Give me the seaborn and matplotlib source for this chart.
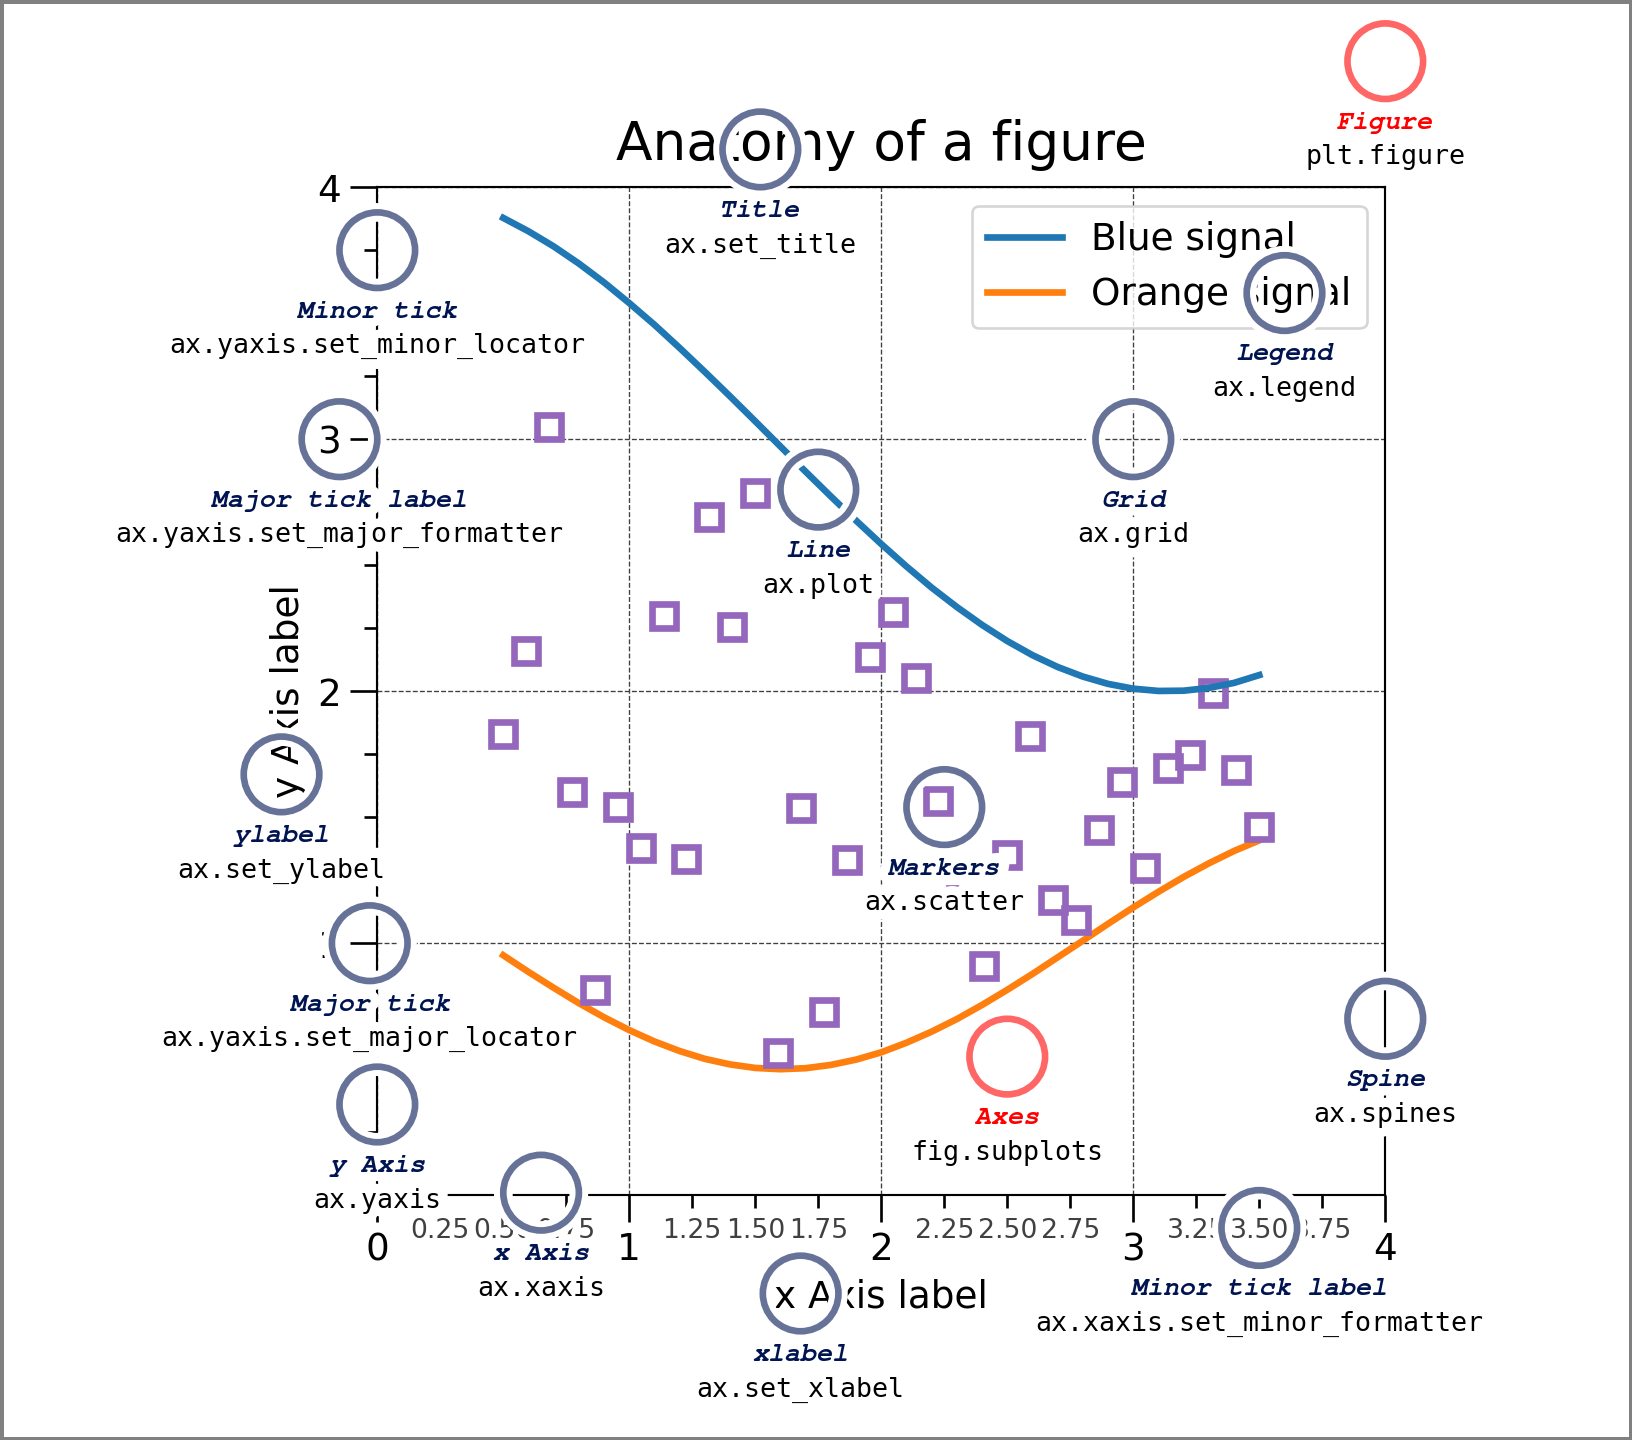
import numpy as np
import matplotlib
matplotlib.use("Agg")
import matplotlib.pyplot as plt
import seaborn as sns
from matplotlib.patches import Circle
from matplotlib.patheffects import withStroke
from matplotlib.ticker import AutoMinorLocator, MultipleLocator
from matplotlib import font_manager
import logging
logging.getLogger('matplotlib.font_manager').setLevel(logging.ERROR)

# ---- data ----
line_x = [0.5, 0.6, 0.7, 0.8, 0.9, 1.0, 1.1, 1.2, 1.3, 1.4, 1.5, 1.6, 1.7, 1.8,
          1.9, 2.0, 2.1, 2.2, 2.3, 2.4, 2.5, 2.6, 2.7, 2.8, 2.9, 3.0, 3.1, 3.2,
          3.3, 3.4, 3.5]
blue_y = [3.878, 3.825, 3.765, 3.697, 3.622, 3.540, 3.454, 3.362, 3.267, 3.170,
          3.071, 2.971, 2.871, 2.773, 2.677, 2.584, 2.495, 2.411, 2.334, 2.263,
          2.199, 2.143, 2.096, 2.058, 2.029, 2.010, 2.001, 2.002, 2.013, 2.033,
          2.064]
orange_y = [0.952, 0.886, 0.823, 0.762, 0.706, 0.655, 0.610, 0.572, 0.541, 0.519,
            0.505, 0.500, 0.504, 0.517, 0.538, 0.567, 0.605, 0.649, 0.699, 0.755,
            0.815, 0.878, 0.944, 1.010, 1.077, 1.142, 1.204, 1.263, 1.317, 1.366,
            1.408]

marker_x = [0.500, 0.591, 0.682, 0.773, 0.864, 0.955, 1.045, 1.136, 1.227, 1.318,
            1.409, 1.500, 1.591, 1.682, 1.773, 1.864, 1.955, 2.045, 2.136, 2.227,
            2.318, 2.409, 2.500, 2.591, 2.682, 2.773, 2.864, 2.955, 3.045, 3.136,
            3.227, 3.318, 3.409, 3.500]
marker_y = [1.830, 2.161, 3.048, 1.600, 0.816, 1.540, 1.377, 2.297, 1.334, 2.690,
            2.253, 2.786, 0.566, 1.536, 0.726, 1.330, 2.134, 2.315, 2.054, 1.565,
            1.170, 0.911, 1.350, 1.824, 1.172, 1.092, 1.449, 1.638, 1.297, 1.694,
            1.745, 1.991, 1.686, 1.462]

series_labels = ["Blue signal", "Orange signal"]
title_text = "Anatomy of a figure"
xlabel_text = "x Axis label"
ylabel_text = "y Axis label"

ann_x = [3.5, -0.03, 0.00, -0.15, 1.68, -0.38, 1.52, 1.75, 2.25, 3.00, 3.60,
         2.5, 4.0, 0.65, 0.0, 4.0]
ann_y = [-0.13, 1.0, 3.75, 3.00, -0.39, 1.67, 4.15, 2.80, 1.54, 3.00, 3.58,
         0.55, 4.5, 0.01, 0.36, 0.7]
ann_name = ["Minor tick label", "Major tick", "Minor tick", "Major tick label",
            "xlabel", "ylabel", "Title", "Line", "Markers", "Grid", "Legend",
            "Axes", "Figure", "x Axis", "y Axis", "Spine"]
ann_code = ["ax.xaxis.set_minor_formatter", "ax.yaxis.set_major_locator",
            "ax.yaxis.set_minor_locator", "ax.yaxis.set_major_formatter",
            "ax.set_xlabel", "ax.set_ylabel", "ax.set_title", "ax.plot",
            "ax.scatter", "ax.grid", "ax.legend", "fig.subplots", "plt.figure",
            "ax.xaxis", "ax.yaxis", "ax.spines"]
ann_red = ["Axes", "Figure"]

royal_blue = [0, 20 / 256, 82 / 256]

# pick a Courier-like slab-serif monospace if one is installed
installed = {f.name for f in font_manager.fontManager.ttflist}
label_fonts = [f for f in ['Nimbus Mono PS', 'Courier New', 'Courier',
                           'FreeMono', 'Nimbus Mono L', 'Courier 10 Pitch']
               if f in installed] + ['DejaVu Sans Mono']

fig = plt.figure(figsize=(8.5, 7.5), dpi=192)
ax = fig.add_axes([0.2, 0.17, 0.68, 0.7], aspect=1)

ax.xaxis.set_major_locator(MultipleLocator(1.000))
ax.xaxis.set_minor_locator(AutoMinorLocator(4))
ax.yaxis.set_major_locator(MultipleLocator(1.000))
ax.yaxis.set_minor_locator(AutoMinorLocator(4))
ax.xaxis.set_minor_formatter("{x:.2f}")

ax.set_xlim(0, 4)
ax.set_ylim(0, 4)

ax.tick_params(which='major', width=1.0, length=10, labelsize=14)
ax.tick_params(which='minor', width=1.0, length=5, labelsize=10,
               labelcolor='0.25')

ax.grid(linestyle="--", linewidth=0.5, color='.25', zorder=-10)

sns.lineplot(x=line_x, y=blue_y, color='C0', lw=2.5, label=series_labels[0],
             zorder=10, ax=ax)
sns.lineplot(x=line_x, y=orange_y, color='C1', lw=2.5, label=series_labels[1],
             ax=ax)
sns.lineplot(x=marker_x, y=marker_y, linewidth=0, markersize=9, marker='s',
             markerfacecolor='none', markeredgecolor='C4', markeredgewidth=2.5,
             ax=ax)

ax.set_xlim(0, 4)
ax.set_ylim(0, 4)
ax.set_title(title_text, fontsize=20, verticalalignment='bottom')
ax.set_xlabel(xlabel_text, fontsize=14)
ax.set_ylabel(ylabel_text, fontsize=14)
ax.legend(loc="upper right", fontsize=14)


def annotate(x, y, text, code, red=False):
    edge = ([1, 0, 0] if red else royal_blue) + [0.6]
    c = Circle((x, y), radius=0.15, clip_on=False, zorder=10, linewidth=2.5,
               edgecolor=edge, facecolor='none',
               path_effects=[withStroke(linewidth=7, foreground='white')])
    ax.add_artist(c)
    for path_effects in [[withStroke(linewidth=7, foreground='white')], []]:
        color = 'white' if path_effects else ('red' if red else royal_blue)
        ax.text(x, y - 0.2, text, zorder=100,
                ha='center', va='top', weight='bold', color=color,
                style='italic', fontfamily=label_fonts,
                path_effects=path_effects)
        color = 'white' if path_effects else 'black'
        ax.text(x, y - 0.33, code, zorder=100,
                ha='center', va='top', weight='normal', color=color,
                fontfamily='monospace', fontsize='medium',
                path_effects=path_effects)


for xx, yy, name, code in zip(ann_x, ann_y, ann_name, ann_code):
    annotate(xx, yy, name, code, red=name in ann_red)

fig.patch.set(linewidth=2, edgecolor='0.5')
fig.savefig("out.png", dpi=192)
